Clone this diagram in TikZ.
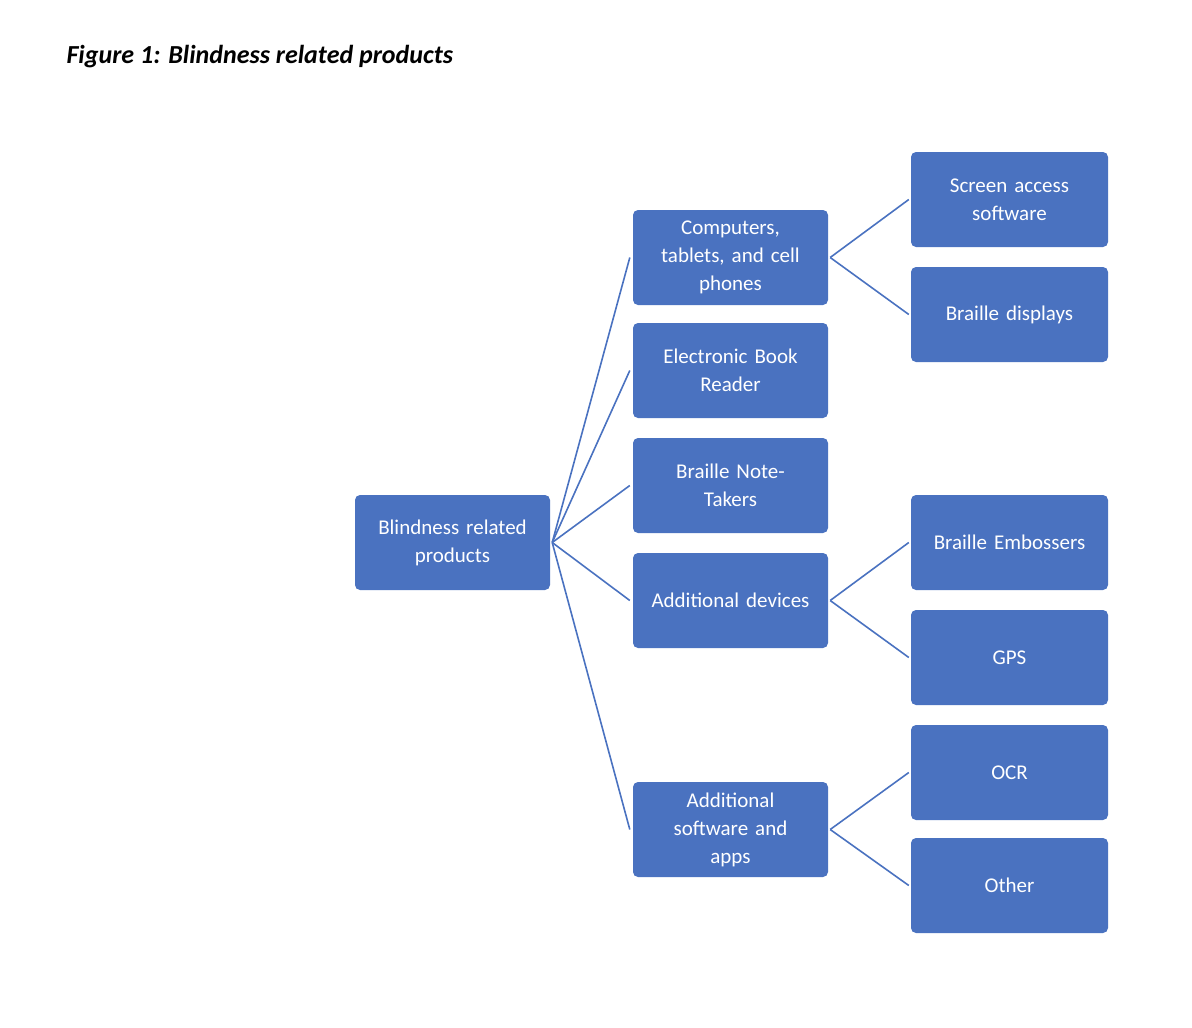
\documentclass[tikz,border=0pt]{standalone}
\usepackage{fontspec}
\setmainfont{Carlito}
\begin{document}
\begin{tikzpicture}[x=1pt,y=-1pt,
box/.style={draw=none,fill=boxblue,rounded corners=5pt,text=white,align=center,inner sep=0pt,font=\fontsize{21}{28}\selectfont},
lone/.style={box,minimum width=195pt,minimum height=95pt,text width=190pt},
ltwo/.style={box,minimum width=197pt,minimum height=95pt,text width=192pt},
con/.style={draw=boxblue,line width=1.6pt}]
\definecolor{boxblue}{HTML}{4A72C0}
\useasboundingbox (0,0) rectangle (1192,1028);
\node[anchor=west,font=\fontsize{26}{30}\selectfont\bfseries\itshape] (title) at (63,57) {Figure 1: Blindness related products};
\node[box,minimum width=195pt,minimum height=95pt,text width=190pt] (root) at (452.5,542.5) {Blindness related\\products};
\node[lone] (a) at (730.5,257.5) {Computers,\\tablets, and cell\\phones};
\node[lone] (b) at (730.5,370.5) {Electronic Book\\Reader};
\node[lone] (c) at (730.5,485.5) {Braille Note-\\Takers};
\node[lone] (d) at (730.5,600.5) {Additional devices};
\node[lone] (e) at (730.5,829.5) {Additional\\software and\\apps};
\node[ltwo] (a1) at (1009.5,199.5) {Screen access\\software};
\node[ltwo] (a2) at (1009.5,314.5) {Braille displays};
\node[ltwo] (d1) at (1009.5,542.5) {Braille Embossers};
\node[ltwo] (d2) at (1009.5,657.5) {GPS};
\node[ltwo] (e1) at (1009.5,772.5) {OCR};
\node[ltwo] (e2) at (1009.5,885.5) {Other};
\foreach \n in {a,b,c,d,e} \draw[con] ([xshift=2pt]root.east) -- ([xshift=-3pt]\n.west);
\foreach \p/\n in {a/a1,a/a2,d/d1,d/d2,e/e1,e/e2} \draw[con] ([xshift=2pt]\p.east) -- ([xshift=-2pt]\n.west);
\end{tikzpicture}
\end{document}
